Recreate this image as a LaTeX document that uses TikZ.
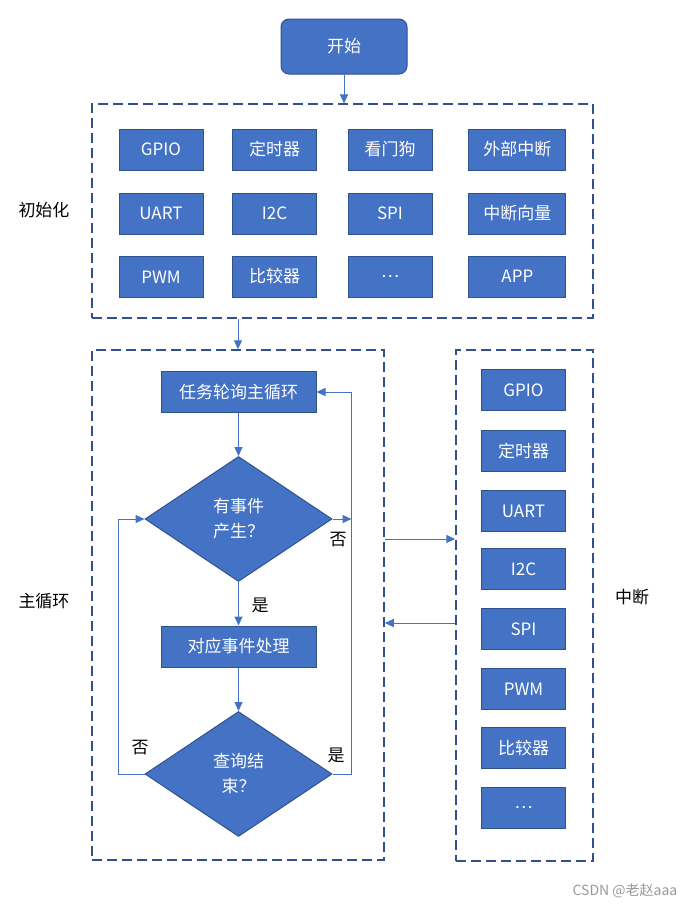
\documentclass[tikz,border=0pt]{standalone}
\usepackage{fontspec}
\setmainfont{Noto Sans CJK SC}
\usetikzlibrary{shapes.geometric,arrows.meta}
\definecolor{boxblue}{HTML}{4472C4}
\definecolor{edgeblue}{HTML}{2F528F}
\tikzstyle{blk}=[rectangle,draw=edgeblue,fill=boxblue,text=white,line width=1pt,inner sep=0pt,minimum width=84pt,minimum height=41pt,font=\fontsize{17}{19}\selectfont]
\tikzstyle{wide}=[blk,minimum width=155pt]
\tikzstyle{dec}=[diamond,draw=edgeblue,fill=boxblue,text=white,line width=1pt,inner sep=0pt,minimum width=187pt,minimum height=125pt,align=center,font=\fontsize{17}{25}\selectfont]
\tikzstyle{grp}=[rectangle,draw=edgeblue,line width=1.5pt,dash pattern=on 10pt off 5pt,inner sep=0pt]
\tikzstyle{arr}=[draw=boxblue,line width=1pt,-{Triangle[length=9pt,width=8pt]}]
\tikzstyle{lbl}=[font=\fontsize{17}{19}\selectfont,inner sep=0pt]
\begin{document}
\begin{tikzpicture}[x=1pt,y=-1pt]
\useasboundingbox (0,0) rectangle (695,911);
\node[blk,rounded corners=8pt,minimum width=126pt,minimum height=55pt] (start) at (344,46.5) {开始};
\node[grp,minimum width=501pt,minimum height=214pt] (init) at (342.3,211.2) {};
\node[grp,minimum width=292pt,minimum height=510pt] (main) at (238,605) {};
\node[grp,minimum width=137pt,minimum height=511pt] (irq) at (524.5,605.5) {};
\node[lbl] (initlbl) at (44,210) {初始化};
\node[lbl] (mainlbl) at (44,601) {主循环};
\node[lbl] (irqlbl) at (632,597) {中断};
\node[blk] (igpio) at (161,149.5) {GPIO};
\node[blk] (itimer) at (274.5,149.5) {定时器};
\node[blk] (iwdg) at (390,149.5) {看门狗};
\node[blk,minimum width=97pt] (iexti) at (517.4,149.5) {外部中断};
\node[blk] (iuart) at (161,213.5) {UART};
\node[blk] (iiic) at (274.5,213.5) {I2C};
\node[blk] (ispi) at (390,213.5) {SPI};
\node[blk,minimum width=97pt] (ivec) at (517.4,213.5) {中断向量};
\node[blk] (ipwm) at (161,277) {PWM};
\node[blk] (icmp) at (274.5,276.5) {比较器};
\node[blk] (imore) at (390,276.5) {\textellipsis};
\node[blk,minimum width=97pt] (iapp) at (517.4,276.5) {APP};
\node[wide] (task) at (238.5,392) {任务轮询主循环};
\node[dec] (evt) at (238.5,519) {有事件\\产生？};
\node[wide] (proc) at (238.5,646.5) {对应事件处理};
\node[dec] (done) at (238.5,774) {查询结\\束？};
\node[blk] (qgpio) at (523.5,390) {GPIO};
\node[blk] (qtimer) at (523.5,451) {定时器};
\node[blk] (quart) at (523.5,511) {UART};
\node[blk] (qiic) at (523.5,569) {I2C};
\node[blk] (qspi) at (523.5,629) {SPI};
\node[blk] (qpwm) at (523.5,689) {PWM};
\node[blk] (qcmp) at (523.5,748) {比较器};
\node[blk] (qmore) at (523.5,808) {\textellipsis};
\coordinate (rloop) at (351.5,0);
\coordinate (lloop) at (118.5,0);
\coordinate (toirq) at (0,539);
\coordinate (fromirq) at (0,623);
\draw[arr] (start.south) -- (start.south |- init.north);
\draw[arr] (main.north |- init.south) -- (main.north);
\draw[arr] (task) -- (evt);
\draw[arr] (evt) -- (proc);
\draw[arr] (proc) -- (done);
\draw[arr] (evt.east) -- (evt.east -| rloop);
\draw[arr] (done.east) -- (done.east -| rloop) |- (task.east);
\draw[arr] (done.west) -- (done.west -| lloop) |- (evt.west);
\draw[arr] (main.east |- toirq) -- (irq.west |- toirq);
\draw[arr] (irq.west |- fromirq) -- (main.east |- fromirq);
\node[lbl] (yes1) at (260,605) {是};
\node[lbl] (no1) at (338,540) {否};
\node[lbl] (no2) at (140,748) {否};
\node[lbl] (yes2) at (336,755) {是};
\node[font=\fontsize{14}{16}\selectfont,text=gray!80,inner sep=0pt] (mark) at (625,891) {CSDN @老赵aaa};
\end{tikzpicture}
\end{document}
